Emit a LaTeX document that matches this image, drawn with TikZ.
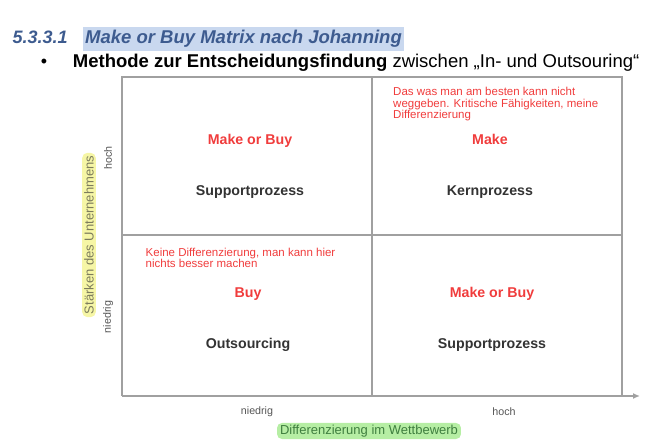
\documentclass[tikz,border=0pt]{standalone}
\usepackage{fontspec}
\setmainfont{Liberation Sans}
\usepackage{xcolor}
\usepackage{tikz}
\usetikzlibrary{arrows.meta}
\usetikzlibrary{positioning}
\definecolor{titleblue}{HTML}{3D5B8F}
\definecolor{titlemark}{HTML}{C9D8EF}
\definecolor{verdictred}{HTML}{F03C3C}
\definecolor{procgray}{HTML}{333333}
\definecolor{gridgray}{HTML}{A0A0A0}
\definecolor{ticktext}{HTML}{555555}
\definecolor{xmark}{HTML}{B6EEA4}
\definecolor{xtext}{HTML}{3F7F3F}
\definecolor{ymark}{HTML}{F6F6A6}
\definecolor{ytext}{HTML}{7C7C5C}
\newcommand{\fs}[2]{\fontsize{#1}{#2}\selectfont}
\tikzset{
    grid/.style = {draw=gridgray, line width=2pt},
    axisline/.style = {grid, -{Latex[length=7pt,width=6pt]}},
    verdict/.style = {inner sep=0pt, text height=10pt, text depth=3pt,
        font=\bfseries\fs{14.2}{16}, text=verdictred},
    process/.style = {verdict, text=procgray},
    cellnote/.style = {inner sep=0pt, align=left, anchor=north west,
        font=\fs{11.5}{11.5}, text=verdictred},
    tick/.style = {inner sep=0pt, font=\fs{10.7}{12}, text=ticktext},
    axistitle/.style = {inner xsep=3pt, inner ysep=2pt, rounded corners=5pt,
        font=\fs{13}{15}},
}
\begin{document}
\begin{tikzpicture}[x=1pt,y=-1pt]
        \useasboundingbox (0,0) rectangle (665,446);
        % heading
        \node [anchor=base west, inner sep=0pt, text=titleblue,
            font=\bfseries\itshape\fs{18}{20}] (secno) at (12.5,44) {5.3.3.1};
        \node [anchor=base west, inner xsep=2pt, text height=13.5pt, text depth=4pt,
            fill=titlemark, text=titleblue, font=\bfseries\itshape\fs{18.5}{20}]
            (sectitle) at (83,44) {Make or Buy Matrix nach Johanning};
        \node [inner sep=0pt, font=\fs{18}{20}] (dot) at (44,63) {\textbullet};
        \node [anchor=base west, inner sep=0pt, font=\fs{18.5}{20}] (method) at (72.7,67.5)
            {\textbf{Methode zur Entscheidungsfindung} zwischen „In- und Outsouring“};
        % matrix
        \coordinate (nw) at (122,77);
        \coordinate (ne) at (622,77);
        \coordinate (sw) at (122,396);
        \coordinate (se) at (622,396);
        \coordinate (nmid) at (372,77);
        \coordinate (smid) at (372,396);
        \coordinate (wmid) at (122,235);
        \coordinate (emid) at (622,235);
        \coordinate (xend) at (640,396);
        \draw [grid] (sw) -- (nw) -- (ne) -- (se);
        \draw [grid] (nmid) -- (smid);
        \draw [grid] (wmid) -- (emid);
        \draw [axisline] (sw) -- (xend);
        % cells
        \node [verdict] (v_nw) at (250,141) {Make or Buy};
        \node [process, below=38pt of v_nw] (p_nw) {Supportprozess};
        \node [verdict] (v_ne) at (490,141) {Make};
        \node [process, below=38pt of v_ne] (p_ne) {Kernprozess};
        \node [verdict] (v_sw) at (248,294) {Buy};
        \node [process, below=38pt of v_sw] (p_sw) {Outsourcing};
        \node [verdict] (v_se) at (492,294) {Make or Buy};
        \node [process, below=38pt of v_se] (p_se) {Supportprozess};
        \node [cellnote] (n_ne) at (393,87) {Das was man am besten kann nicht\\
            weggeben. Kritische Fähigkeiten, meine\\Differenzierung};
        \node [cellnote] (n_sw) at (145.5,247.5) {Keine Differenzierung, man kann hier\\
            nichts besser machen};
        % axes
        \node [tick] (x_lo) at (257,412) {niedrig};
        \node [tick] (x_hi) at (504,412) {hoch};
        \node [tick, rotate=90] (y_hi) at (108,158) {hoch};
        \node [tick, rotate=90] (y_lo) at (108,317) {niedrig};
        \node [axistitle, fill=xmark, text=xtext] (xlabel) at (369,431)
            {Differenzierung im Wettbewerb};
        \node [axistitle, fill=ymark, text=ytext, rotate=90] (ylabel) at (89,235)
            {Stärken des Unternehmens};
\end{tikzpicture}
\end{document}
